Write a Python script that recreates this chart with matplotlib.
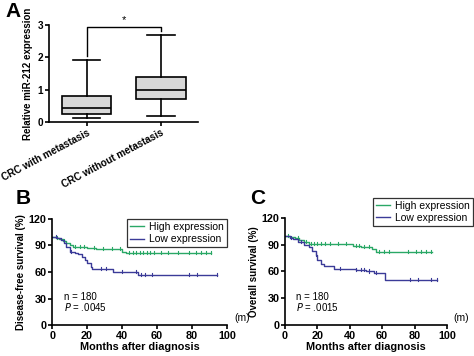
import numpy as np
import matplotlib
matplotlib.use("Agg")
import matplotlib.pyplot as plt

plt.rcParams['font.family'] = ['Liberation Sans', 'DejaVu Sans']

# ---------------- Data ----------------
groups = ["CRC with metastasis", "CRC without metastasis"]
box_whislo = [0.12, 0.18]
box_q1 = [0.25, 0.70]
box_med = [0.43, 1.00]
box_q3 = [0.80, 1.40]
box_whishi = [1.92, 2.68]

# Panel B: disease-free survival
dfs_high_t = [0, 2, 4, 6, 8, 10, 12, 20, 25, 38, 40, 42, 91]
dfs_high_s = [100, 99, 97, 95, 93, 91, 88, 87, 86, 86, 83, 81, 81]
dfs_high_cens = [3, 7, 13, 16, 18, 24, 29, 34, 39, 44, 46, 48, 50, 52, 54, 56, 58, 62, 66, 72, 78, 82, 85, 88, 91]
dfs_low_t = [0, 3, 5, 7, 8, 10, 13, 15, 17, 19, 20, 22, 23, 35, 49, 94]
dfs_low_s = [100, 98, 96, 93, 88, 83, 82, 80, 77, 74, 70, 66, 63, 60, 57, 57]
dfs_low_cens = [2, 11, 28, 31, 40, 48, 51, 53, 57, 78, 83, 94]

# Panel C: overall survival
os_high_t = [0, 3, 6, 9, 12, 15, 40, 42, 47, 54, 56, 91]
os_high_s = [100, 99, 97, 95, 93, 91, 91, 89, 87, 85, 82, 82]
os_high_cens = [2, 8, 13, 16, 18, 20, 22, 25, 28, 33, 38, 44, 46, 49, 52, 58, 61, 64, 76, 81, 84, 87, 90]
os_low_t = [0, 3, 5, 8, 12, 15, 17, 19, 20, 22, 24, 30, 44, 50, 55, 62, 94]
os_low_s = [100, 98, 96, 93, 90, 87, 83, 78, 73, 68, 66, 63, 62, 60, 58, 50, 50]
os_low_cens = [4, 10, 19, 34, 44, 47, 49, 52, 56, 77, 82, 90, 94]

high_color = "#2aa866"
low_color = "#3b3b98"

fig = plt.figure(figsize=(4.74, 3.56), dpi=100)

def style_axes(ax, size=7.8):
    for s in ['top', 'right']:
        ax.spines[s].set_visible(False)
    for s in ['left', 'bottom']:
        ax.spines[s].set_linewidth(1.2)
    ax.tick_params(direction='out', length=3, width=1.2, labelsize=size, pad=1)
    for lab in ax.get_xticklabels() + ax.get_yticklabels():
        lab.set_fontweight('bold')

# ---------------- Panel A ----------------
axA = fig.add_axes([0.103, 0.657, 0.315, 0.273])
stats = []
for i in range(len(groups)):
    stats.append(dict(med=box_med[i], q1=box_q1[i], q3=box_q3[i],
                      whislo=box_whislo[i], whishi=box_whishi[i], fliers=[]))
axA.bxp(stats, positions=[1, 2], widths=0.66, patch_artist=True,
        boxprops=dict(facecolor='#d8d8d8', edgecolor='black', linewidth=1.2),
        medianprops=dict(color='black', linewidth=1.2),
        whiskerprops=dict(color='black', linewidth=1.2),
        capprops=dict(color='black', linewidth=1.2), capwidths=0.37,
        showfliers=False)
axA.set_xlim(0.49, 2.5)
axA.set_ylim(0, 3)
axA.set_yticks([0, 1, 2, 3])
axA.set_xticks([1, 2])
axA.set_xticklabels(groups, rotation=28, ha='right', rotation_mode='anchor')
style_axes(axA, size=7.2)
axA.set_ylabel("Relative miR-212 expression", fontsize=7, fontweight='bold', labelpad=3)
# significance bracket
axA.plot([1, 1, 2, 2], [box_whishi[0] + 0.13, 2.95, 2.95, box_whishi[1] + 0.13],
         color='black', lw=1.0, clip_on=False)
axA.text(1.5, 3.0, "*", ha='center', va='bottom', fontsize=8)
fig.text(0.012, 0.995, "A", fontsize=15, fontweight='bold', va='top', ha='left')

# ---------------- KM helper ----------------
def km(ax, t, s, cens, color, label):
    ax.step(t, s, where='post', color=color, lw=1.0, label=label)
    t_arr = np.asarray(t)
    s_arr = np.asarray(s)
    for c in cens:
        idx = np.searchsorted(t_arr, c, side='right') - 1
        ax.plot([c, c], [s_arr[idx] - 1.2, s_arr[idx] + 2.2], color=color, lw=0.8)

def km_axes(rect, ylabel, high, low, pval, letter, letter_pos, legend_anchor):
    ax = fig.add_axes(rect)
    km(ax, *high, high_color, "High expression")
    km(ax, *low, low_color, "Low expression")
    ax.set_xlim(0, 100)
    ax.set_ylim(0, 120)
    ax.set_xticks([0, 20, 40, 60, 80, 100])
    ax.set_yticks([0, 30, 60, 90, 120])
    style_axes(ax)
    ax.set_xlabel("Months after diagnosis", fontsize=7.8, fontweight='bold', labelpad=1)
    ax.set_ylabel(ylabel, fontsize=7, fontweight='bold', labelpad=2)
    ax.text(7, 31.5, "n = 180", fontsize=7, va='center')
    ax.text(7, 20.5, "$\\it{P}$ = " + pval, fontsize=7, va='center')
    ax.text(104, 2, "(m)", fontsize=7.5, va='bottom', ha='left', clip_on=False)
    leg = ax.legend(loc='upper right', bbox_to_anchor=legend_anchor, fontsize=7.5,
                    frameon=True, fancybox=False, handlelength=1.3,
                    borderpad=0.3, labelspacing=0.2, handletextpad=0.5,
                    borderaxespad=0)
    leg.get_frame().set_edgecolor('black')
    leg.get_frame().set_linewidth(0.9)
    fig.text(letter_pos[0], letter_pos[1], letter, fontsize=15, fontweight='bold',
             va='top', ha='left')
    return ax

km_axes([0.110, 0.087, 0.369, 0.298], "Disease-free survival (%)",
        (dfs_high_t, dfs_high_s, dfs_high_cens), (dfs_low_t, dfs_low_s, dfs_low_cens),
        ".0045", "B", (0.033, 0.47), (1.0, 1.0))
km_axes([0.601, 0.087, 0.342, 0.301], "Overall survival (%)",
        (os_high_t, os_high_s, os_high_cens), (os_low_t, os_low_s, os_low_cens),
        ".0015", "C", (0.527, 0.47), (1.16, 1.19))

fig.savefig("out.png", dpi=100)
